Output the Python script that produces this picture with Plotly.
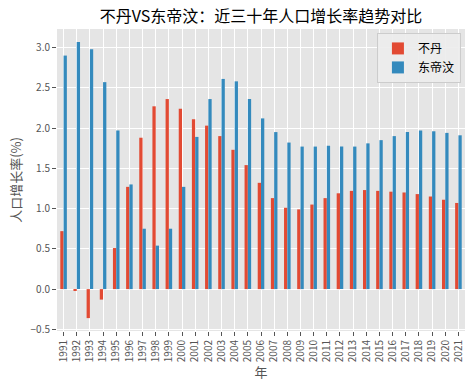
import plotly.graph_objects as go

years = [str(y) for y in range(1991, 2022)]
bhutan = [0.72, -0.02, -0.36, -0.13, 0.51, 1.27, 1.88, 2.27, 2.36, 2.24,
          2.11, 2.03, 1.90, 1.73, 1.54, 1.32, 1.13, 1.01, 0.99, 1.05,
          1.13, 1.19, 1.22, 1.23, 1.22, 1.21, 1.20, 1.18, 1.15, 1.11, 1.07]
timor = [2.90, 3.07, 2.98, 2.57, 1.97, 1.30, 0.75, 0.54, 0.75, 1.27,
         1.89, 2.36, 2.61, 2.58, 2.36, 2.12, 1.95, 1.82, 1.77, 1.77,
         1.78, 1.77, 1.77, 1.81, 1.85, 1.90, 1.95, 1.97, 1.96, 1.94, 1.91]
y_ticks = [-0.5, 0.0, 0.5, 1.0, 1.5, 2.0, 2.5, 3.0]

font = "Noto Sans CJK SC"
fig = go.Figure()
fig.add_trace(go.Bar(x=years, y=bhutan, name="不丹", marker_color="#E24A33", marker_line_width=0))
fig.add_trace(go.Bar(x=years, y=timor, name="东帝汶", marker_color="#348ABD", marker_line_width=0))

fig.update_layout(
    width=474, height=389,
    margin=dict(l=57, r=9, t=29, b=58),
    paper_bgcolor="white", plot_bgcolor="#E5E5E5",
    barmode="group", bargap=0.5, bargroupgap=0,
    font=dict(family=font, color="#555555", size=10),
    title=dict(text="不丹VS东帝汶：近三十年人口增长率趋势对比", xref="paper", x=0.5, xanchor="center",
               y=0.958, yanchor="middle",
               font=dict(size=16, color="black", family=font)),
    legend=dict(x=0.99, y=0.987, xanchor="right", yanchor="top",
                bgcolor="rgba(236,236,236,0.9)", bordercolor="#CCCCCC", borderwidth=1,
                font=dict(size=12, color="black", family=font), itemwidth=30,
                tracegroupgap=0),
    showlegend=True,
)
fig.update_xaxes(
    type="category", range=[-0.5, 30.5], tickangle=-90,
    showgrid=True, gridcolor="white", gridwidth=1,
    ticks="outside", ticklen=4, tickcolor="#555555",
    tickfont=dict(size=10, color="#555555"),
    title=dict(text="年", font=dict(size=13, color="#555555"), standoff=4),
    zeroline=False, showline=False,
)
fig.update_yaxes(
    range=[-0.52, 3.23], tickvals=y_ticks, ticktext=[f"{v:.1f}".replace("-", "−") for v in y_ticks],
    showgrid=True, gridcolor="white", gridwidth=1,
    ticks="outside", ticklen=4, tickcolor="#555555",
    tickfont=dict(size=10, color="#555555"),
    title=dict(text="人口增长率(%)", font=dict(size=13, color="#555555"), standoff=6),
    zeroline=False, showline=False,
)
fig.write_html("out.html", config={"displayModeBar": False},
               post_script="document.body.style.margin='0';")
